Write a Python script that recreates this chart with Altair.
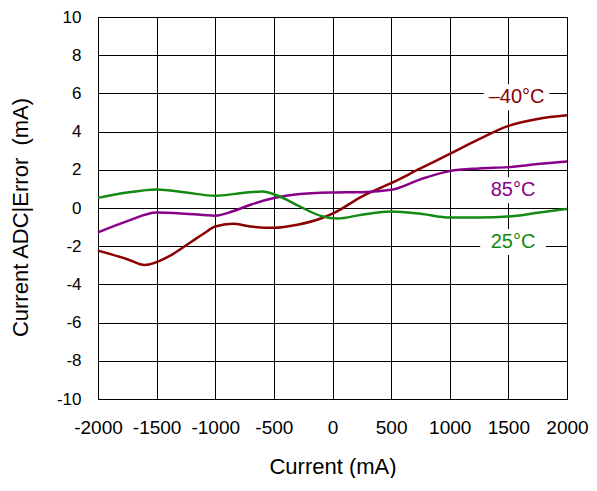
import pandas as pd
import altair as alt

# readings taken off the reference plot (current in mA, error in mA)
x_m40 = [-2000, -1750, -1600, -1400, -1200, -1100, -1000, -850, -700, -500, -300, -100, 0, 250, 500, 750, 1000, 1250, 1500, 1750, 2000]
y_m40 = [-2.23, -2.68, -2.99, -2.55, -1.75, -1.35, -0.97, -0.83, -0.97, -1.04, -0.88, -0.55, -0.3, 0.6, 1.3, 2.07, 2.83, 3.6, 4.3, 4.66, 4.85]

x_85 = [-2000, -1750, -1500, -1250, -1000, -850, -700, -500, -300, 0, 250, 500, 750, 1000, 1250, 1500, 1750, 2000]
y_85 = [-1.28, -0.69, -0.24, -0.3, -0.4, -0.17, 0.17, 0.52, 0.72, 0.81, 0.83, 0.95, 1.5, 1.93, 2.07, 2.14, 2.3, 2.43]

x_25 = [-2000, -1750, -1500, -1250, -1000, -750, -600, -450, -280, -90, 40, 250, 500, 750, 1000, 1250, 1500, 1750, 2000]
y_25 = [0.53, 0.81, 0.97, 0.81, 0.64, 0.8, 0.86, 0.6, 0.08, -0.43, -0.55, -0.35, -0.18, -0.3, -0.5, -0.5, -0.45, -0.25, -0.05]

series = ["-40", "85", "25"]
colors = ["#8B0000", "#880088", "#138A13"]

x_ticks = [-2000, -1500, -1000, -500, 0, 500, 1000, 1500, 2000]
y_ticks = [-10, -8, -6, -4, -2, 0, 2, 4, 6, 8, 10]

label_text = ["\u201340\u00b0C", "85\u00b0C", "25\u00b0C"]
label_x = [1570, 1540, 1540]
label_y = [5.8, 0.93, -1.78]

rows = []
for name, xs, ys in zip(series, [x_m40, x_85, x_25], [y_m40, y_85, y_25]):
    for a, b in zip(xs, ys):
        rows.append({"temp": name, "current": a, "error": b})
df = pd.DataFrame(rows)

labels = pd.DataFrame({"temp": series, "text": label_text, "x": label_x, "y": label_y})
labels["x0"] = labels["x"] - 280
labels["x1"] = labels["x"] + 280
labels["y0"] = labels["y"] - 0.68
labels["y1"] = labels["y"] + 0.68

color_scale = alt.Scale(domain=series, range=colors)
xs = alt.Scale(domain=[-2000, 2000], nice=False)
ys = alt.Scale(domain=[-10, 10], nice=False)

x_axis = alt.Axis(
    values=x_ticks, labelExpr="'' + datum.value",
    labelFontSize=19, labelPadding=19, labelOverlap=False, labelFlush=False,
    ticks=False, domain=False,
    title="Current (mA)", titleFontSize=22, titleFontWeight="normal",
    titleY=67, titleBaseline="middle")
y_axis = alt.Axis(
    values=y_ticks, labelExpr="'' + datum.value",
    labelFontSize=17, labelPadding=17, labelOverlap=False, labelFlush=False,
    ticks=False, domain=False,
    title="Current ADC|Error \u00a0(mA)", titleFontSize=22, titleFontWeight="normal",
    titleX=-78, titleY=200, titleBaseline="middle", titleAlign="center", titleAngle=-90)

# white boxes behind the curve labels hide the grid, as in the original
boxes = alt.Chart(labels).mark_rect(color="white").encode(
    x=alt.X("x0:Q", scale=xs, axis=x_axis), x2="x1",
    y=alt.Y("y0:Q", scale=ys, axis=y_axis), y2="y1",
)

lines = alt.Chart(df).mark_line(strokeWidth=2.5, interpolate="monotone").encode(
    x=alt.X("current:Q", scale=xs, axis=x_axis),
    y=alt.Y("error:Q", scale=ys, axis=y_axis),
    color=alt.Color("temp:N", scale=color_scale, legend=None),
    detail="temp:N",
)

texts = alt.Chart(labels).mark_text(fontSize=20, font="Liberation Sans").encode(
    x=alt.X("x:Q", scale=xs, axis=x_axis),
    y=alt.Y("y:Q", scale=ys, axis=y_axis),
    text="text:N",
    color=alt.Color("temp:N", scale=color_scale, legend=None),
)

chart = alt.layer(boxes, lines, texts).properties(
    width=469, height=382,
    padding={"left": 90, "top": 9, "right": 22, "bottom": 79},
    autosize=alt.AutoSizeParams(type="none"),
).configure(font="Liberation Sans").configure_axis(
    gridColor="black", gridOpacity=1, gridWidth=1,
    labelColor="black", titleColor="black",
).configure_view(stroke="black", strokeWidth=1)

chart.save("out.html", embed_options={"renderer": "svg", "actions": False})
